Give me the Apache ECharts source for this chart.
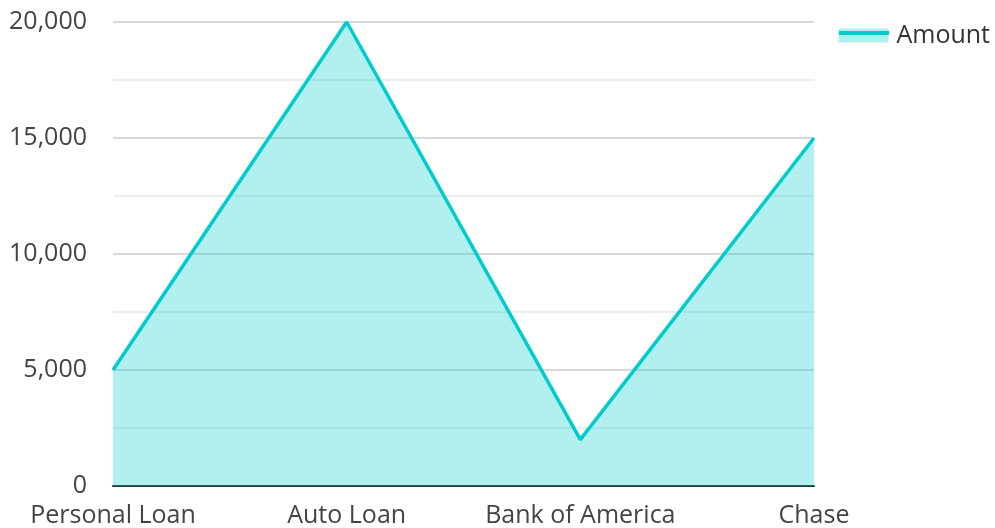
<!DOCTYPE html>
<html>
<head>
<meta charset="utf-8">
<script src="https://cdn.jsdelivr.net/npm/echarts@6/dist/echarts.min.js"></script>
<style>html,body{margin:0;padding:0;background:#fff}#c{width:995px;height:528px}</style>
</head>
<body>
<div id="c"></div>
<script>
const categories = ['Personal Loan', 'Auto Loan', 'Bank of America', 'Chase'];
const amounts = [5000, 20000, 2000, 15000];
const seriesName = 'Amount';

const chart = echarts.init(document.getElementById('c'), null, {renderer: 'canvas'});
const font = '"Open Sans", "Noto Sans", sans-serif';
chart.setOption({
  animation: false,
  textStyle: {fontFamily: font},
  grid: {left: 113, right: 181, top: 22, bottom: 40, containLabel: false},
  legend: {
    right: 0, top: 18, icon: 'rect', itemWidth: 50, itemHeight: 14, itemGap: 10,
    itemStyle: {color: 'rgba(0,204,204,0.3)'},
    textStyle: {fontSize: 25, color: '#333', fontFamily: font, padding: [0, 0, 16, 3]}
  },
  graphic: [{
    type: 'rect', left: 839, top: 31, shape: {width: 50, height: 4},
    style: {fill: '#00cccc'}, z: 100
  }],
  xAxis: {
    type: 'category', data: categories, boundaryGap: false,
    axisLine: {lineStyle: {color: '#333', width: 2}},
    axisTick: {show: false},
    axisLabel: {fontSize: 25, color: '#444', margin: 17, interval: 0, fontFamily: font},
    splitLine: {show: false}
  },
  yAxis: {
    type: 'value', min: 0, max: 20000, interval: 5000,
    axisLine: {show: false}, axisTick: {show: false},
    axisLabel: {fontSize: 25, color: '#444', margin: 26, fontFamily: font,
      formatter: v => v.toLocaleString('en-US')},
    splitLine: {lineStyle: {color: '#cccccc', width: 1.5}},
    minorTick: {show: false, splitNumber: 2},
    minorSplitLine: {show: true, lineStyle: {color: '#e8e8e8', width: 1.5}}
  },
  series: [{
    name: seriesName, type: 'line', data: amounts, showSymbol: false, symbol: 'none',
    lineStyle: {color: '#00cccc', width: 3.5},
    itemStyle: {color: '#00cccc'},
    areaStyle: {color: '#00cccc', opacity: 0.3}
  }]
});
</script>
</body>
</html>
